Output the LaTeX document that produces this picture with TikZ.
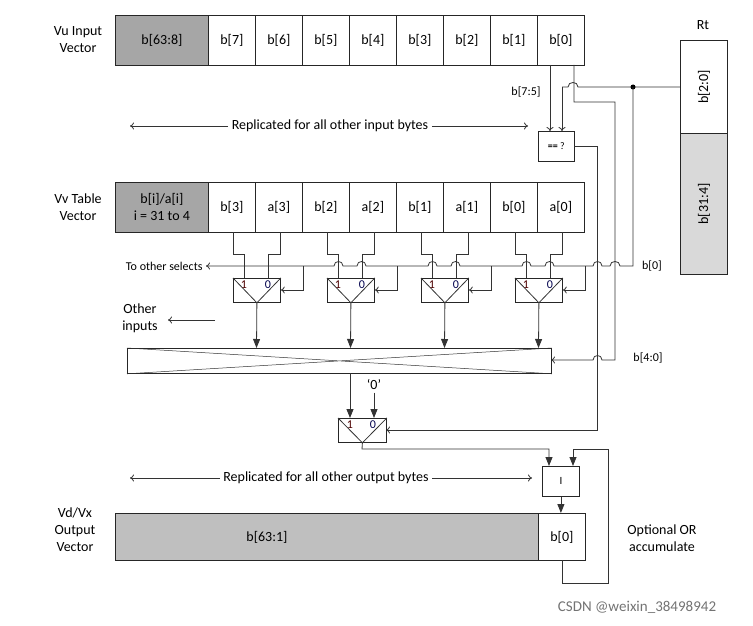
\documentclass[tikz,border=0pt]{standalone}
\usepackage{fontspec}
\setmainfont{Carlito}
\usetikzlibrary{arrows.meta}
\begin{document}
\begin{tikzpicture}[x=1pt,y=-1pt,
  cell/.style={draw=black!85,line width=0.8pt,minimum height=50pt,inner sep=0pt,font=\fontsize{14}{17}\selectfont,align=center},
  w/.style={draw=black!80,line width=0.8pt},
  oa/.style={w,-{To[length=4pt,width=7pt]}},
  fa/.style={w,-{Triangle[length=9pt,width=7pt]}},
  lbl/.style={font=\fontsize{14}{17}\selectfont,align=center},
  sl/.style={font=\fontsize{12}{14}\selectfont}]
\useasboundingbox (0,0) rectangle (753,626);
% Vu row
\node[lbl] (vul) at (78,40) {Vu Input\\Vector};
\node[cell,fill=black!35,minimum width=93pt,anchor=north west] (vug) at (115,15) {b[63:8]};
\foreach \i/\t in {0/7,1/6,2/5,3/4,4/3,5/2,6/1,7/0}
  \node[cell,minimum width=47pt,anchor=north west] (vu\t) at (208+47*\i,15) {b[\t]};
% Rt
\node[lbl] (rtl) at (703,25) {Rt};
\node[cell,minimum width=47pt,minimum height=93pt,anchor=north west] (rt1) at (680,40) {};
\node[lbl,rotate=90] at (rt1) {b[2:0]};
\node[cell,fill=black!15,minimum width=47pt,minimum height=141pt,anchor=north west] (rt2) at (680,133) {};
\node[lbl,rotate=90] at (rt2) {b[31:4]};
% compare
\node[draw=black!85,line width=0.8pt,minimum width=36pt,minimum height=30pt,anchor=north west,inner sep=0pt,font=\fontsize{10}{11}\selectfont] (cmp) at (538,131) {\textbf{==} ?};
\node[sl] (b75) at (526,92) {b[7:5]};
\coordinate (dot) at (633,87);
\draw[oa] (550,65) -- (550,131);
\draw[w] (680,87) -- (dot) -- (578,87) .. controls (578,81) and (568,81) .. (568,87) -- (562,87);
\draw[oa] (562,87) -- (562,131);
\fill (dot) circle (2.5pt);
\draw[oa] (574,65) -- (574,102) -- (615,102) -- (615,360) -- (602,360) .. controls (602,354) and (593,354) .. (593,360) -- (551,360);
\node[sl] (b40) at (648,358) {b[4:0]};
\draw[oa] (574,146) -- (597,146) -- (597,430) -- (386,430);
% replicated input
\node[lbl] (rep1) at (330,126) {Replicated for all other input bytes};
\draw[oa] (rep1.west) -- (130,126);
\draw[oa] (rep1.east) -- (528,126);
% Vv row
\node[lbl] (vvl) at (78,207) {Vv Table\\Vector};
\node[cell,fill=black!35,minimum width=93pt,anchor=north west] (vvg) at (115,182) {b[i]/a[i]\\i = 31 to 4};
\foreach \i/\t in {0/b[3],1/a[3],2/b[2],3/a[2],4/b[1],5/a[1],6/b[0],7/a[0]}
  \node[cell,minimum width=47pt,anchor=north west] (vv\i) at (208+47*\i,182) {\t};
% select line
\node[sl,anchor=east] (tos) at (206,266) {To other selects};
\draw[oa] (dot) -- (633,266) -- (620,266) .. controls (620,260) and (610,260) .. (610,266) -- (602,266) .. controls (602,260) and (593,260) .. (593,266)
  \foreach \k in {3,2,1} { -- ({272+94*\k},266) .. controls ({272+94*\k},260) and ({263+94*\k},260) .. ({263+94*\k},266)
    -- ({249+94*\k},266) .. controls ({249+94*\k},260) and ({240+94*\k},260) .. ({240+94*\k},266) }
  -- (tos.east);
\node[sl] (b0l) at (652,266) {b[0]};
% muxes
\foreach \k in {0,1,2,3} {
  \node[draw=black!85,line width=0.8pt,minimum width=47pt,minimum height=24pt,inner sep=0pt,anchor=north west] (m\k) at ({233+94*\k},278) {};
  \draw[w] (m\k.north west) -- (m\k.south) -- (m\k.north east);
  \node[font=\fontsize{12}{13}\selectfont,text=black!70!red] at ({244+94*\k},285) {1};
  \node[font=\fontsize{12}{13}\selectfont,text=black!70!blue] at ({268+94*\k},285) {0};
  \draw[w] ({233+94*\k},232) -- ({233+94*\k},254) -- ({244+94*\k},254) -- ({244+94*\k},278);
  \draw[w] ({280+94*\k},232) -- ({280+94*\k},254) -- ({268+94*\k},254) -- ({268+94*\k},278);
  \draw[oa] ({303+94*\k},266) -- ({303+94*\k},290) -- (m\k.east|-0,290);
  \draw[fa] (m\k.south) -- ({256.5+94*\k},348);
}
% other inputs
\node[lbl] (oth) at (140,318) {Other\\inputs};
\coordinate (oe) at (215,320);
\draw[oa] (oe) -- (168,320);
% bar
\node[draw=black!85,line width=0.8pt,minimum width=424pt,minimum height=25pt,inner sep=0pt,anchor=north west] (bar) at (127,348) {};
\draw[w,line width=0.5pt] (bar.north west) -- (bar.south east) (bar.south west) -- (bar.north east);
% mux 2
\node[draw=black!85,line width=0.8pt,minimum width=48pt,minimum height=24pt,inner sep=0pt,anchor=north west] (m5) at (338,418) {};
\draw[w] (m5.north west) -- (m5.south) -- (m5.north east);
\node[font=\fontsize{12}{13}\selectfont,text=black!70!red] at (350,425) {1};
\node[font=\fontsize{12}{13}\selectfont,text=black!70!blue] at (373,425) {0};
\draw[fa] (350,373) -- (350,418);
\node[lbl] (zero) at (374,384) {‘0’};
\draw[fa] (zero.south) -- (374,418);
% OR
\node[draw=black!85,line width=0.8pt,minimum width=37pt,minimum height=30pt,inner sep=0pt,anchor=north west,font=\fontsize{11}{12}\selectfont] (or) at (542,466) {I};
\draw[fa] (m5.south) -- (362,449) -- (549,449) -- (549,466);
% replicated output
\node[lbl] (rep2) at (326,478) {Replicated for all other output bytes};
\draw[oa] (rep2.west) -- (130,478);
\draw[oa] (rep2.east) -- (532,478);
% output row
\node[lbl] (vdl) at (75,530) {Vd/Vx\\Output\\Vector};
\node[cell,fill=black!25,minimum width=423pt,minimum height=47pt,anchor=north west] (og) at (115,513) {\hspace*{-120pt}b[63:1]};
\node[cell,minimum width=47pt,minimum height=47pt,anchor=north west] (o0) at (538,513) {b[0]};
\draw[fa] (or.south) -- (or.south|-o0.north);
\draw[fa] (562,560) -- (562,583) -- (608,583) -- (608,449) -- (573,449) -- (573,466);
\node[lbl] (optl) at (662,538) {Optional OR\\accumulate};
\node[font=\fontsize{15}{17}\selectfont,text=black!55] (wm) at (637,607) {CSDN @weixin\_38498942};
\end{tikzpicture}
\end{document}
